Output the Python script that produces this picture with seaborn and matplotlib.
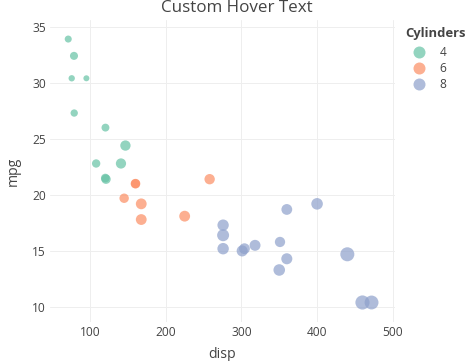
import matplotlib
matplotlib.use("Agg")
import matplotlib.pyplot as plt
import seaborn as sns
import pandas as pd
from matplotlib.lines import Line2D

# mtcars data
disp = [160, 160, 108, 258, 360, 225, 360, 146.7, 140.8, 167.6, 167.6, 275.8, 275.8, 275.8,
        472, 460, 440, 78.7, 75.7, 71.1, 120.1, 318, 304, 350, 400, 79, 120.3, 95.1, 351, 145, 301, 121]
mpg = [21, 21, 22.8, 21.4, 18.7, 18.1, 14.3, 24.4, 22.8, 19.2, 17.8, 16.4, 17.3, 15.2,
       10.4, 10.4, 14.7, 32.4, 30.4, 33.9, 21.5, 15.5, 15.2, 13.3, 19.2, 27.3, 26, 30.4, 15.8, 19.7, 15, 21.4]
cyl = [6, 6, 4, 6, 8, 6, 8, 4, 4, 6, 6, 8, 8, 8, 8, 8, 8, 4, 4, 4, 4, 8, 8, 8, 8, 4, 4, 4, 8, 6, 8, 4]
wt = [2.62, 2.875, 2.32, 3.215, 3.44, 3.46, 3.57, 3.19, 3.15, 3.44, 3.44, 4.07, 3.73, 3.78,
      5.25, 5.424, 5.345, 2.2, 1.615, 1.835, 2.465, 3.52, 3.435, 3.84, 3.845, 1.935, 2.14, 1.513, 3.17, 2.77, 3.57, 2.78]
cyl_levels = ["4", "6", "8"]
x_ticks = [100, 200, 300, 400, 500]
y_ticks = [10, 15, 20, 25, 30, 35]

df = pd.DataFrame({"disp": disp, "mpg": mpg, "cyl": [str(c) for c in cyl], "wt": wt})

sns.set_style("white")
plt.rcParams["font.family"] = ["Open Sans", "DejaVu Sans"]

DPI = 72
fig = plt.figure(figsize=(474 / DPI, 361 / DPI), dpi=DPI)
ax = fig.add_axes([50 / 474, 1 - 322 / 361, 345 / 474, 302 / 361])

colors = ["#66c2a5", "#fc8d62", "#8da0cb"]
palette = dict(zip(cyl_levels, colors))

sns.scatterplot(data=df, x="disp", y="mpg", hue="cyl", hue_order=cyl_levels, palette=palette,
                size="wt", sizes=(36, 200), alpha=0.7, linewidth=0, legend=False, ax=ax, zorder=3)

ax.set_xlim(47, 503)
ax.set_ylim(8.66, 35.6)
ax.set_xticks(x_ticks)
ax.set_yticks(y_ticks)
for s in ax.spines.values():
    s.set_visible(False)
ax.grid(True, color="#eeeeee", linewidth=1)
ax.set_axisbelow(True)
ax.tick_params(length=0, labelsize=12, colors="#444444", pad=4)
ax.set_xlabel("disp", fontsize=14, color="#444444", labelpad=8)
ax.set_ylabel("mpg", fontsize=14, color="#444444", labelpad=12)

fig.text(0.5, 1.0, "Custom Hover Text", ha="center", va="top", fontsize=17, color="#444444")

# legend title
fig.text(405 / 474, 1 - 33 / 361, "Cylinders", ha="left", va="center", fontsize=13,
         fontweight="bold", color="#444444")

handles = [Line2D([], [], marker="o", linestyle="", markersize=12, markerfacecolor=c,
                  markeredgewidth=0, alpha=0.7) for c in colors]
leg = fig.legend(handles, cyl_levels, loc="upper left",
                 bbox_to_anchor=(413 / 474, 1 - 46 / 361), frameon=False, fontsize=12,
                 handlelength=1.0, handletextpad=1.2,
                 labelspacing=0.25, borderpad=0, borderaxespad=0)
for t in leg.get_texts():
    t.set_color("#444444")

fig.savefig("out.png", dpi=DPI, facecolor="white")
